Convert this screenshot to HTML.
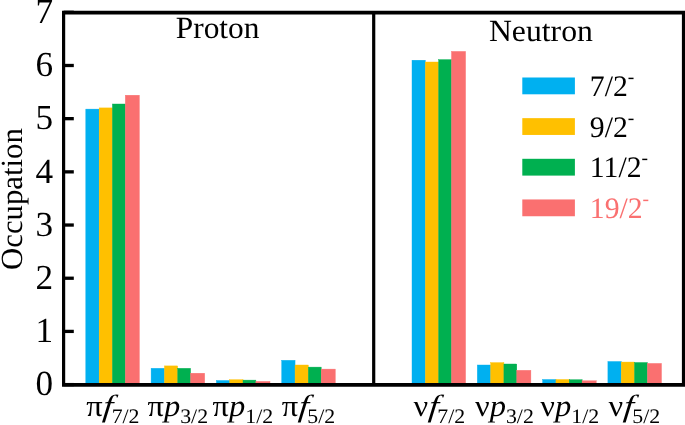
<!DOCTYPE html>
<html><head><meta charset="utf-8"><title>Occupation</title>
<style>html,body{margin:0;padding:0;background:#fff}svg{display:block}</style></head>
<body>
<svg width="685" height="425" viewBox="0 0 685 425" text-rendering="geometricPrecision">
<rect width="685" height="425" fill="#fff"/>
<rect x="85.80" y="109.10" width="13.35" height="275.80" fill="#00B0F0" stroke="#00B0F0" stroke-width="0.4"/>
<rect x="99.15" y="107.90" width="13.25" height="277.00" fill="#FFC000" stroke="#FFC000" stroke-width="0.4"/>
<rect x="112.40" y="104.00" width="12.90" height="280.90" fill="#00B050" stroke="#00B050" stroke-width="0.4"/>
<rect x="125.30" y="95.20" width="14.10" height="289.70" fill="#FA7070" stroke="#FA7070" stroke-width="0.4"/>
<rect x="151.10" y="368.30" width="13.35" height="16.60" fill="#00B0F0" stroke="#00B0F0" stroke-width="0.4"/>
<rect x="164.45" y="365.90" width="13.25" height="19.00" fill="#FFC000" stroke="#FFC000" stroke-width="0.4"/>
<rect x="177.70" y="368.30" width="12.90" height="16.60" fill="#00B050" stroke="#00B050" stroke-width="0.4"/>
<rect x="190.60" y="373.20" width="14.10" height="11.70" fill="#FA7070" stroke="#FA7070" stroke-width="0.4"/>
<rect x="216.40" y="380.50" width="13.35" height="4.40" fill="#00B0F0" stroke="#00B0F0" stroke-width="0.4"/>
<rect x="229.75" y="379.70" width="13.25" height="5.20" fill="#FFC000" stroke="#FFC000" stroke-width="0.4"/>
<rect x="243.00" y="380.10" width="12.90" height="4.80" fill="#00B050" stroke="#00B050" stroke-width="0.4"/>
<rect x="255.90" y="381.40" width="14.10" height="3.50" fill="#FA7070" stroke="#FA7070" stroke-width="0.4"/>
<rect x="281.70" y="360.30" width="13.35" height="24.60" fill="#00B0F0" stroke="#00B0F0" stroke-width="0.4"/>
<rect x="295.05" y="365.00" width="13.25" height="19.90" fill="#FFC000" stroke="#FFC000" stroke-width="0.4"/>
<rect x="308.30" y="367.10" width="12.90" height="17.80" fill="#00B050" stroke="#00B050" stroke-width="0.4"/>
<rect x="321.20" y="369.10" width="14.10" height="15.80" fill="#FA7070" stroke="#FA7070" stroke-width="0.4"/>
<rect x="412.00" y="60.20" width="13.35" height="324.70" fill="#00B0F0" stroke="#00B0F0" stroke-width="0.4"/>
<rect x="425.35" y="62.00" width="13.25" height="322.90" fill="#FFC000" stroke="#FFC000" stroke-width="0.4"/>
<rect x="438.60" y="59.60" width="12.90" height="325.30" fill="#00B050" stroke="#00B050" stroke-width="0.4"/>
<rect x="451.50" y="51.40" width="14.10" height="333.50" fill="#FA7070" stroke="#FA7070" stroke-width="0.4"/>
<rect x="477.30" y="365.00" width="13.35" height="19.90" fill="#00B0F0" stroke="#00B0F0" stroke-width="0.4"/>
<rect x="490.65" y="362.60" width="13.25" height="22.30" fill="#FFC000" stroke="#FFC000" stroke-width="0.4"/>
<rect x="503.90" y="364.00" width="12.90" height="20.90" fill="#00B050" stroke="#00B050" stroke-width="0.4"/>
<rect x="516.80" y="370.30" width="14.10" height="14.60" fill="#FA7070" stroke="#FA7070" stroke-width="0.4"/>
<rect x="542.60" y="379.50" width="13.35" height="5.40" fill="#00B0F0" stroke="#00B0F0" stroke-width="0.4"/>
<rect x="555.95" y="379.50" width="13.25" height="5.40" fill="#FFC000" stroke="#FFC000" stroke-width="0.4"/>
<rect x="569.20" y="379.70" width="12.90" height="5.20" fill="#00B050" stroke="#00B050" stroke-width="0.4"/>
<rect x="582.10" y="380.80" width="14.10" height="4.10" fill="#FA7070" stroke="#FA7070" stroke-width="0.4"/>
<rect x="607.90" y="361.50" width="13.35" height="23.40" fill="#00B0F0" stroke="#00B0F0" stroke-width="0.4"/>
<rect x="621.25" y="362.05" width="13.25" height="22.85" fill="#FFC000" stroke="#FFC000" stroke-width="0.4"/>
<rect x="634.50" y="362.50" width="12.90" height="22.40" fill="#00B050" stroke="#00B050" stroke-width="0.4"/>
<rect x="647.40" y="363.40" width="14.10" height="21.50" fill="#FA7070" stroke="#FA7070" stroke-width="0.4"/>
<g stroke="#000" fill="none" stroke-linecap="butt">
<path stroke-width="3.6" d="M62.0 12.6 H685"/>
<path stroke-width="3.6" d="M62.0 384.9 H685"/>
<path stroke-width="3.2" d="M63.6 12.6 V384.9"/>
<path stroke-width="3.2" d="M373.7 12.6 V384.9"/>
<path stroke-width="3.2" d="M683.5 12.6 V384.9"/>
<path stroke-width="3.3" d="M63.6 384.60 H73.8"/>
<path stroke-width="3.3" d="M63.6 331.41 H73.8"/>
<path stroke-width="3.3" d="M63.6 278.23 H73.8"/>
<path stroke-width="3.3" d="M63.6 225.04 H73.8"/>
<path stroke-width="3.3" d="M63.6 171.86 H73.8"/>
<path stroke-width="3.3" d="M63.6 118.67 H73.8"/>
<path stroke-width="3.3" d="M63.6 65.49 H73.8"/>
<path stroke-width="3.3" d="M63.6 12.30 H73.8"/>
</g>
<g font-family="'Liberation Serif', serif" font-size="35.2" text-anchor="end" fill="#000">
<text x="53.0" y="395.30">0</text>
<text x="53.0" y="342.11">1</text>
<text x="53.0" y="288.93">2</text>
<text x="53.0" y="235.74">3</text>
<text x="53.0" y="182.56">4</text>
<text x="53.0" y="129.37">5</text>
<text x="53.0" y="76.19">6</text>
<text x="53.0" y="23.00">7</text>
</g>
<text transform="translate(21.5,199.05) rotate(-90)" font-family="'Liberation Serif', serif" font-size="30.75" text-anchor="middle" fill="#000">Occupation</text>
<text transform="translate(217.6,38.3) scale(1.02,1)" font-family="'Liberation Serif', serif" font-size="30.8" text-anchor="middle" fill="#000">Proton</text>
<text transform="translate(540.9,40.5) scale(1.03,1)" font-family="'Liberation Serif', serif" font-size="30.8" text-anchor="middle" fill="#000">Neutron</text>
<rect x="522.3" y="77.50" width="52.6" height="16.8" fill="#00B0F0"/>
<text x="589.8" y="96.10" font-family="'Liberation Serif', serif" font-size="29.7" fill="#000">7/2<tspan font-size="19.5" dy="-13">-</tspan></text>
<rect x="522.3" y="118.15" width="52.6" height="16.8" fill="#FFC000"/>
<text x="589.8" y="136.90" font-family="'Liberation Serif', serif" font-size="29.7" fill="#000">9/2<tspan font-size="19.5" dy="-13">-</tspan></text>
<rect x="522.3" y="158.80" width="52.6" height="16.8" fill="#00B050"/>
<text x="589.8" y="176.50" font-family="'Liberation Serif', serif" font-size="29.7" fill="#000">11/2<tspan font-size="19.5" dy="-13">-</tspan></text>
<rect x="522.3" y="199.45" width="52.6" height="16.8" fill="#FA7070"/>
<text x="589.8" y="217.50" font-family="'Liberation Serif', serif" font-size="29.7" fill="#FA7070">19/2<tspan font-size="19.5" dy="-13">-</tspan></text>
<text transform="translate(86.16,416) scale(1.06,1)" font-family="'Liberation Serif', serif" font-size="30.7" fill="#000">π</text>
<text transform="translate(102.29,416) scale(1.166,1) skewX(-5)" font-family="'Liberation Serif', serif" font-style="italic" font-size="30.7" fill="#000">f</text>
<text transform="translate(111.63,423.3) scale(1.06,1)" font-family="'Liberation Serif', serif" font-size="20.6" fill="#000">7/2</text>
<text transform="translate(147.50,416) scale(1.06,1)" font-family="'Liberation Serif', serif" font-size="30.7" fill="#000">π</text>
<text transform="translate(163.93,416) scale(1.06,1)" font-family="'Liberation Serif', serif" font-style="italic" font-size="30.7" fill="#000">p</text>
<text transform="translate(180.20,423.3) scale(1.06,1)" font-family="'Liberation Serif', serif" font-size="20.6" fill="#000">3/2</text>
<text transform="translate(212.60,416) scale(1.06,1)" font-family="'Liberation Serif', serif" font-size="30.7" fill="#000">π</text>
<text transform="translate(229.03,416) scale(1.06,1)" font-family="'Liberation Serif', serif" font-style="italic" font-size="30.7" fill="#000">p</text>
<text transform="translate(245.30,423.3) scale(1.06,1)" font-family="'Liberation Serif', serif" font-size="20.6" fill="#000">1/2</text>
<text transform="translate(281.81,416) scale(1.06,1)" font-family="'Liberation Serif', serif" font-size="30.7" fill="#000">π</text>
<text transform="translate(297.94,416) scale(1.166,1) skewX(-5)" font-family="'Liberation Serif', serif" font-style="italic" font-size="30.7" fill="#000">f</text>
<text transform="translate(307.28,423.3) scale(1.06,1)" font-family="'Liberation Serif', serif" font-size="20.6" fill="#000">5/2</text>
<text transform="translate(413.57,416) scale(1.06,1)" font-family="'Liberation Serif', serif" font-size="30.7" fill="#000">ν</text>
<text transform="translate(427.99,416) scale(1.166,1) skewX(-5)" font-family="'Liberation Serif', serif" font-style="italic" font-size="30.7" fill="#000">f</text>
<text transform="translate(437.33,423.3) scale(1.06,1)" font-family="'Liberation Serif', serif" font-size="20.6" fill="#000">7/2</text>
<text transform="translate(474.96,416) scale(1.06,1)" font-family="'Liberation Serif', serif" font-size="30.7" fill="#000">ν</text>
<text transform="translate(489.67,416) scale(1.06,1)" font-family="'Liberation Serif', serif" font-style="italic" font-size="30.7" fill="#000">p</text>
<text transform="translate(505.94,423.3) scale(1.06,1)" font-family="'Liberation Serif', serif" font-size="20.6" fill="#000">3/2</text>
<text transform="translate(540.26,416) scale(1.06,1)" font-family="'Liberation Serif', serif" font-size="30.7" fill="#000">ν</text>
<text transform="translate(554.97,416) scale(1.06,1)" font-family="'Liberation Serif', serif" font-style="italic" font-size="30.7" fill="#000">p</text>
<text transform="translate(571.24,423.3) scale(1.06,1)" font-family="'Liberation Serif', serif" font-size="20.6" fill="#000">1/2</text>
<text transform="translate(608.47,416) scale(1.06,1)" font-family="'Liberation Serif', serif" font-size="30.7" fill="#000">ν</text>
<text transform="translate(622.89,416) scale(1.166,1) skewX(-5)" font-family="'Liberation Serif', serif" font-style="italic" font-size="30.7" fill="#000">f</text>
<text transform="translate(632.23,423.3) scale(1.06,1)" font-family="'Liberation Serif', serif" font-size="20.6" fill="#000">5/2</text>
</svg>
</body></html>
